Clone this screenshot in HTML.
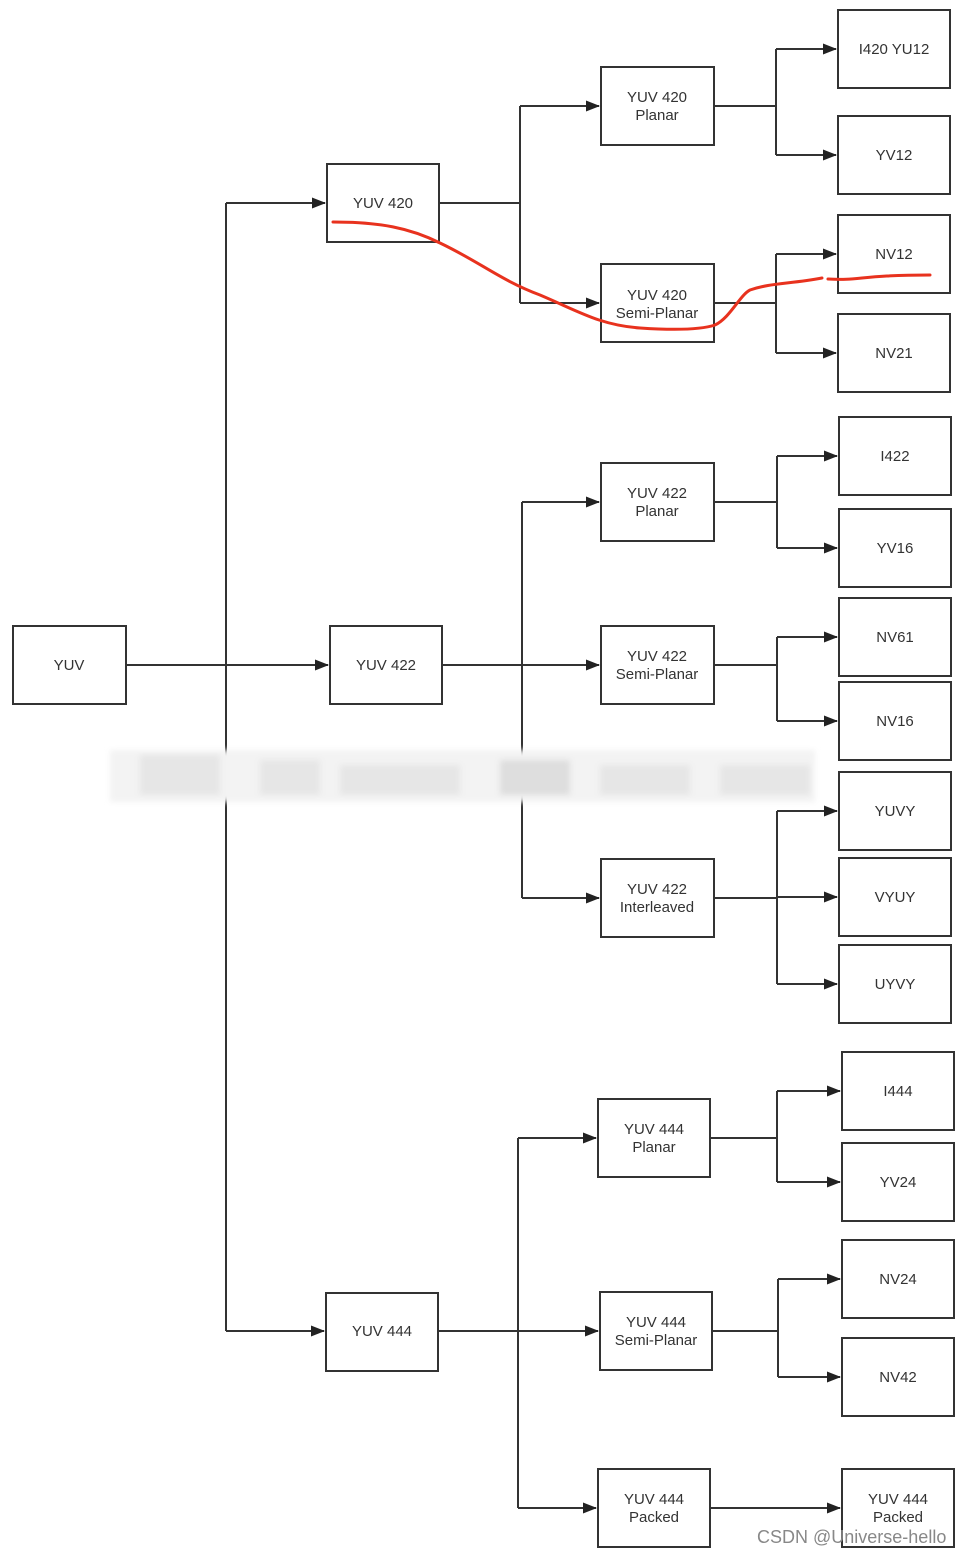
<!DOCTYPE html>
<html><head><style>body{margin:0;background:#fff}svg{display:block}text{font-family:"Liberation Sans",sans-serif;font-size:15px;fill:#333}</style></head><body>
<svg width="968" height="1554" viewBox="0 0 968 1554" xmlns="http://www.w3.org/2000/svg">
<defs><marker id="a" markerWidth="14" markerHeight="11" refX="13" refY="5.5" orient="auto" markerUnits="userSpaceOnUse"><path d="M0,0L14,5.5L0,11z" fill="#222"/></marker>
<filter id="b"><feGaussianBlur stdDeviation="3"/></filter></defs>
<g stroke="#333" stroke-width="2" fill="none">
<path d="M126,665H226"/><path d="M226,203V1331"/>
<path d="M226,203H325" marker-end="url(#a)"/><path d="M226,665H328" marker-end="url(#a)"/><path d="M226,1331H324" marker-end="url(#a)"/>
<path d="M439,203H520M520,106V303"/>
<path d="M520,106H599" marker-end="url(#a)"/><path d="M520,303H599" marker-end="url(#a)"/>
<path d="M442,665H522M522,502V898"/>
<path d="M522,502H599" marker-end="url(#a)"/><path d="M522,665H599" marker-end="url(#a)"/><path d="M522,898H599" marker-end="url(#a)"/>
<path d="M438,1331H518M518,1138V1508"/>
<path d="M518,1138H596" marker-end="url(#a)"/><path d="M518,1331H598" marker-end="url(#a)"/><path d="M518,1508H596" marker-end="url(#a)"/>
<path d="M714,106H776M776,49V155"/><path d="M776,49H836" marker-end="url(#a)"/><path d="M776,155H836" marker-end="url(#a)"/>
<path d="M714,303H776M776,254V353"/><path d="M776,254H836" marker-end="url(#a)"/><path d="M776,353H836" marker-end="url(#a)"/>
<path d="M714,502H777M777,456V548"/><path d="M777,456H837" marker-end="url(#a)"/><path d="M777,548H837" marker-end="url(#a)"/>
<path d="M714,665H777M777,637V721"/><path d="M777,637H837" marker-end="url(#a)"/><path d="M777,721H837" marker-end="url(#a)"/>
<path d="M714,898H777M777,811V984"/><path d="M777,811H837" marker-end="url(#a)"/><path d="M777,897H837" marker-end="url(#a)"/><path d="M777,984H837" marker-end="url(#a)"/>
<path d="M710,1138H777M777,1091V1182"/><path d="M777,1091H840" marker-end="url(#a)"/><path d="M777,1182H840" marker-end="url(#a)"/>
<path d="M712,1331H778M778,1279V1377"/><path d="M778,1279H840" marker-end="url(#a)"/><path d="M778,1377H840" marker-end="url(#a)"/>
<path d="M710,1508H840" marker-end="url(#a)"/>
<rect x="13" y="626" width="113" height="78"/>
<rect x="327" y="164" width="112" height="78"/>
<rect x="330" y="626" width="112" height="78"/>
<rect x="326" y="1293" width="112" height="78"/>
<rect x="601" y="67" width="113" height="78"/>
<rect x="601" y="264" width="113" height="78"/>
<rect x="601" y="463" width="113" height="78"/>
<rect x="601" y="626" width="113" height="78"/>
<rect x="601" y="859" width="113" height="78"/>
<rect x="598" y="1099" width="112" height="78"/>
<rect x="600" y="1292" width="112" height="78"/>
<rect x="598" y="1469" width="112" height="78"/>
<rect x="838" y="10" width="112" height="78"/>
<rect x="838" y="116" width="112" height="78"/>
<rect x="838" y="215" width="112" height="78"/>
<rect x="838" y="314" width="112" height="78"/>
<rect x="839" y="417" width="112" height="78"/>
<rect x="839" y="509" width="112" height="78"/>
<rect x="839" y="598" width="112" height="78"/>
<rect x="839" y="682" width="112" height="78"/>
<rect x="839" y="772" width="112" height="78"/>
<rect x="839" y="858" width="112" height="78"/>
<rect x="839" y="945" width="112" height="78"/>
<rect x="842" y="1052" width="112" height="78"/>
<rect x="842" y="1143" width="112" height="78"/>
<rect x="842" y="1240" width="112" height="78"/>
<rect x="842" y="1338" width="112" height="78"/>
<rect x="842" y="1469" width="112" height="78"/>
</g>
<g filter="url(#b)" fill="#e6e6e6">
<rect x="110" y="750" width="705" height="52" fill="#f3f3f3"/>
<rect x="140" y="755" width="80" height="40"/><rect x="260" y="760" width="60" height="35"/><rect x="340" y="765" width="120" height="30"/><rect x="500" y="760" width="70" height="35" fill="#dedede"/><rect x="600" y="765" width="90" height="30"/><rect x="720" y="765" width="90" height="30"/>
</g>
<g text-anchor="middle">
<text x="69" y="670">YUV</text>
<text x="383" y="208">YUV 420</text>
<text x="386" y="670">YUV 422</text>
<text x="382" y="1336">YUV 444</text>
<text x="657" y="102">YUV 420</text><text x="657" y="120">Planar</text>
<text x="657" y="300">YUV 420</text><text x="657" y="318">Semi-Planar</text>
<text x="657" y="498">YUV 422</text><text x="657" y="516">Planar</text>
<text x="657" y="661">YUV 422</text><text x="657" y="679">Semi-Planar</text>
<text x="657" y="894">YUV 422</text><text x="657" y="912">Interleaved</text>
<text x="654" y="1134">YUV 444</text><text x="654" y="1152">Planar</text>
<text x="656" y="1327">YUV 444</text><text x="656" y="1345">Semi-Planar</text>
<text x="654" y="1504">YUV 444</text><text x="654" y="1522">Packed</text>
<text x="894" y="54">I420 YU12</text>
<text x="894" y="160">YV12</text>
<text x="894" y="259">NV12</text>
<text x="894" y="358">NV21</text>
<text x="895" y="461">I422</text>
<text x="895" y="553">YV16</text>
<text x="895" y="642">NV61</text>
<text x="895" y="726">NV16</text>
<text x="895" y="816">YUVY</text>
<text x="895" y="902">VYUY</text>
<text x="895" y="989">UYVY</text>
<text x="898" y="1096">I444</text>
<text x="898" y="1187">YV24</text>
<text x="898" y="1284">NV24</text>
<text x="898" y="1382">NV42</text>
<text x="898" y="1504">YUV 444</text><text x="898" y="1522">Packed</text>
</g>
<path d="M333,222C380,222 410,228 440,243C480,262 500,280 540,295C580,312 600,325 640,328C670,330 700,330 715,325C730,318 740,295 750,290C770,283 790,284 822,278M828,279C860,281 860,275 930,275" stroke="#e8321e" stroke-width="3" fill="none" stroke-linecap="round"/>
<text x="757" y="1543" style="font-size:18px;fill:#888">CSDN @Universe-hello</text>
</svg>
</body></html>
